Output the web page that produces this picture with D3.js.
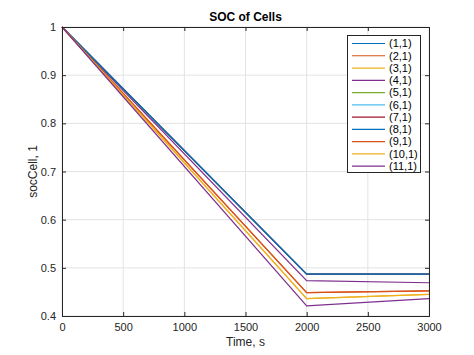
<!DOCTYPE html>
<html><head><meta charset="utf-8">
<script src="https://cdn.jsdelivr.net/npm/d3@7"></script>
<style>body{margin:0;background:#fff;} text{font-family:"Liberation Sans",Arial,sans-serif;}</style>
</head><body>
<svg id="c" width="474" height="355"></svg>
<script>
const times = [0, 2000, 3000];
const seriesNames = ["(1,1)","(2,1)","(3,1)","(4,1)","(5,1)","(6,1)","(7,1)","(8,1)","(9,1)","(10,1)","(11,1)"];
const seriesColors = ["#0072BD","#D95319","#EDB120","#7E2F8E","#77AC30","#4DBEEE","#A2142F","#0072BD","#D95319","#EDB120","#7E2F8E"];
const s1 = [1, 0.487, 0.487];
const s2 = [1, 0.4485, 0.452];
const s3 = [1, 0.436, 0.445];
const s4 = [1, 0.4735, 0.469];
const s5 = [1, 0.487, 0.487];
const s6 = [1, 0.487, 0.487];
const s7 = [1, 0.487, 0.487];
const s8 = [1, 0.487, 0.487];
const s9 = [1, 0.4485, 0.452];
const s10 = [1, 0.436, 0.445];
const s11 = [1, 0.421, 0.436];
const seriesValues = [s1,s2,s3,s4,s5,s6,s7,s8,s9,s10,s11];
const xTicks = [0,500,1000,1500,2000,2500,3000];
const yTicks = [0.4,0.5,0.6,0.7,0.8,0.9,1];

const svg = d3.select("#c");
const L=62, R=429, T=27, B=316;
const x = d3.scaleLinear().domain([0,3000]).range([L,R]);
const y = d3.scaleLinear().domain([0.4,1]).range([B,T]);

// grid
const g = svg.append("g");
g.selectAll(".gx").data(xTicks).enter().append("line")
 .attr("x1",d=>x(d)).attr("x2",d=>x(d)).attr("y1",T).attr("y2",B)
 .attr("stroke","#e3e3e3").attr("stroke-width",1);
g.selectAll(".gy").data(yTicks).enter().append("line")
 .attr("y1",d=>y(d)).attr("y2",d=>y(d)).attr("x1",L).attr("x2",R)
 .attr("stroke","#e3e3e3").attr("stroke-width",1);

// lines
const line = d3.line().x((d,i)=>x(times[i])).y(d=>y(d));
seriesValues.forEach((v,i)=>{
  svg.append("path").attr("d",line(v)).attr("fill","none")
   .attr("stroke",seriesColors[i]).attr("stroke-width",1.2);
});

// axes
const tc="#262626";
const xa = svg.append("g").attr("transform",`translate(0,${B})`)
 .call(d3.axisBottom(x).tickValues(xTicks).tickSize(-4).tickPadding(7).tickFormat(d3.format("d")));
const xt = svg.append("g").attr("transform",`translate(0,${T})`)
 .call(d3.axisTop(x).tickValues(xTicks).tickSize(-4).tickFormat(""));
const ya = svg.append("g").attr("transform",`translate(${L},0)`)
 .call(d3.axisLeft(y).tickValues(yTicks).tickSize(-4).tickPadding(6).tickFormat(d=>d===1?"1":d3.format(".1f")(d)));
const yr = svg.append("g").attr("transform",`translate(${R},0)`)
 .call(d3.axisRight(y).tickValues(yTicks).tickSize(-4).tickFormat(""));
[xa,xt,ya,yr].forEach(a=>{
  a.selectAll("path").attr("stroke",tc).attr("stroke-width",1);
  a.selectAll("line").attr("stroke",tc);
  a.selectAll("text").attr("fill",tc).style("font-size","11px").style("font-family","'Liberation Sans',Arial,sans-serif");
});

// labels
svg.append("text").attr("x",(L+R)/2).attr("y",20.5).attr("text-anchor","middle")
 .style("font-size","12px").style("font-weight","bold").attr("fill","#000").text("SOC of Cells");
svg.append("text").attr("x",(L+R)/2).attr("y",346).attr("text-anchor","middle")
 .style("font-size","12px").attr("fill",tc).text("Time, s");
svg.append("text").attr("transform",`translate(37,${(T+B)/2}) rotate(-90)`).attr("text-anchor","middle")
 .style("font-size","12px").attr("fill",tc).text("socCell, 1");

// legend
const lx=347, ly=35, lw=73, lh=137;
const lg = svg.append("g");
lg.append("rect").attr("x",lx+0.5).attr("y",ly+0.5).attr("width",lw).attr("height",lh)
 .attr("fill","#fff").attr("stroke",tc).attr("stroke-width",1);
seriesNames.forEach((n,i)=>{
  const yy = ly+8.5+i*12.27;
  lg.append("line").attr("x1",lx+5).attr("x2",lx+38).attr("y1",yy).attr("y2",yy)
   .attr("stroke",seriesColors[i]).attr("stroke-width",1.2);
  lg.append("text").attr("x",lx+42).attr("y",yy+3.8).style("font-size","11px").attr("fill","#000").text(n);
});
</script>
</body></html>
